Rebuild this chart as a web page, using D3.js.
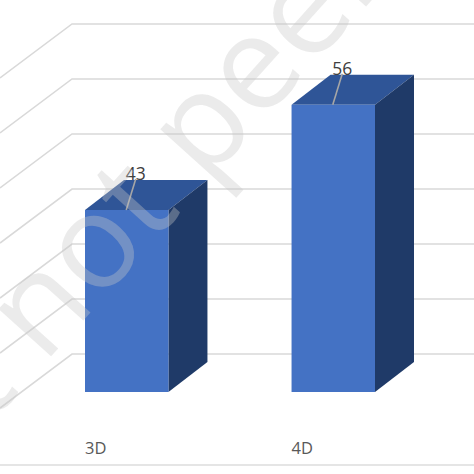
<!DOCTYPE html>
<html lang="en">
<head>
<meta charset="UTF-8">
<title>3D vs 4D</title>
<script src="https://cdnjs.cloudflare.com/ajax/libs/d3/7.8.5/d3.min.js"></script>
<style>
  html, body { margin: 0; padding: 0; background: #fff; }
  svg { display: block; }
  text { font-family: "Open Sans", "Noto Sans", sans-serif; }
</style>
</head>
<body>
<svg id="chart" width="474" height="474"></svg>
<script>
// values (no value axis is shown, grid values are estimates)
const categories = ["3D", "4D"];
const values = [43, 56];
const gridValues = [20.5, 27.3, 34.1, 40.9, 47.7, 54.5, 61.3];
const watermark = "Preprint not peer reviewed";

const width = 474, height = 474;
// 3d offsets of the box and of the back wall
const depthX = 39, depthY = 30;
const wallX = 72, wallY = 38, wallRun = 72, wallDrop = 54;

const svg = d3.select("#chart");

const x = d3.scaleBand().domain(categories).range([85, 375]).paddingInner(0.596).paddingOuter(0);
const y = d3.scaleLinear().domain([20.5, 43]).range([392, 210]);

// grid: flat on the back wall, then running down the left side wall
const line = d3.line();
svg.append("g").selectAll("path")
    .data(gridValues)
    .join("path")
    .attr("d", d => {
        const gy = y(d) - wallY;
        return line([[wallX - wallRun, gy + wallDrop], [wallX, gy], [width, gy]]);
    })
    .attr("fill", "none")
    .attr("stroke", "#d9d9d9")
    .attr("stroke-width", 1.6);

// baseline under the category labels
svg.append("line")
    .attr("x1", 0).attr("x2", width)
    .attr("y1", 465).attr("y2", 465)
    .attr("stroke", "#dcdcdc")
    .attr("stroke-width", 1.6);

const data = categories.map((c, i) => ({ c, v: values[i] }));
const bars = svg.append("g").selectAll("g").data(data).join("g");

// top face
bars.append("path")
    .attr("d", d => {
        const l = x(d.c), r = l + x.bandwidth(), t = y(d.v);
        return line([[l, t], [r, t], [r + depthX, t - depthY], [l + depthX, t - depthY]]) + "Z";
    })
    .attr("fill", "#2f5597");

// side face
bars.append("path")
    .attr("d", d => {
        const r = x(d.c) + x.bandwidth(), t = y(d.v), b = y(20.5);
        return line([[r, t], [r + depthX, t - depthY], [r + depthX, b - depthY], [r, b]]) + "Z";
    })
    .attr("fill", "#1f3a68");

// front face
bars.append("rect")
    .attr("x", d => x(d.c))
    .attr("y", d => y(d.v))
    .attr("width", x.bandwidth())
    .attr("height", d => y(20.5) - y(d.v))
    .attr("fill", "#4472c4");

// leader lines to the labels
bars.append("line")
    .attr("x1", d => x(d.c) + x.bandwidth() / 2 - 0.5)
    .attr("y1", d => y(d.v))
    .attr("x2", d => x(d.c) + x.bandwidth() / 2 + 9)
    .attr("y2", d => y(d.v) - 31)
    .attr("stroke", "#a6a6a6")
    .attr("stroke-width", 1.6);

bars.append("text")
    .attr("x", d => x(d.c) + x.bandwidth() / 2 + 9)
    .attr("y", d => y(d.v) - 30)
    .attr("text-anchor", "middle")
    .attr("font-size", 17.5)
    .attr("fill", "#404040")
    .text(d => d.v);

// category labels, left aligned with the bars
svg.append("g").selectAll("text")
    .data(categories)
    .join("text")
    .attr("x", d => x(d))
    .attr("y", 454)
    .attr("font-size", 16.5)
    .attr("fill", "#595959")
    .text(d => d);

// watermark on top of everything
svg.append("text")
    .attr("transform", "translate(-62,482) rotate(-48)")
    .attr("font-size", 132)
    .attr("font-family", "DejaVu Sans")
    .attr("fill", "#c8c8c8")
    .attr("fill-opacity", 0.36)
    .attr("x", -380)
    .text(watermark);
</script>
</body>
</html>
